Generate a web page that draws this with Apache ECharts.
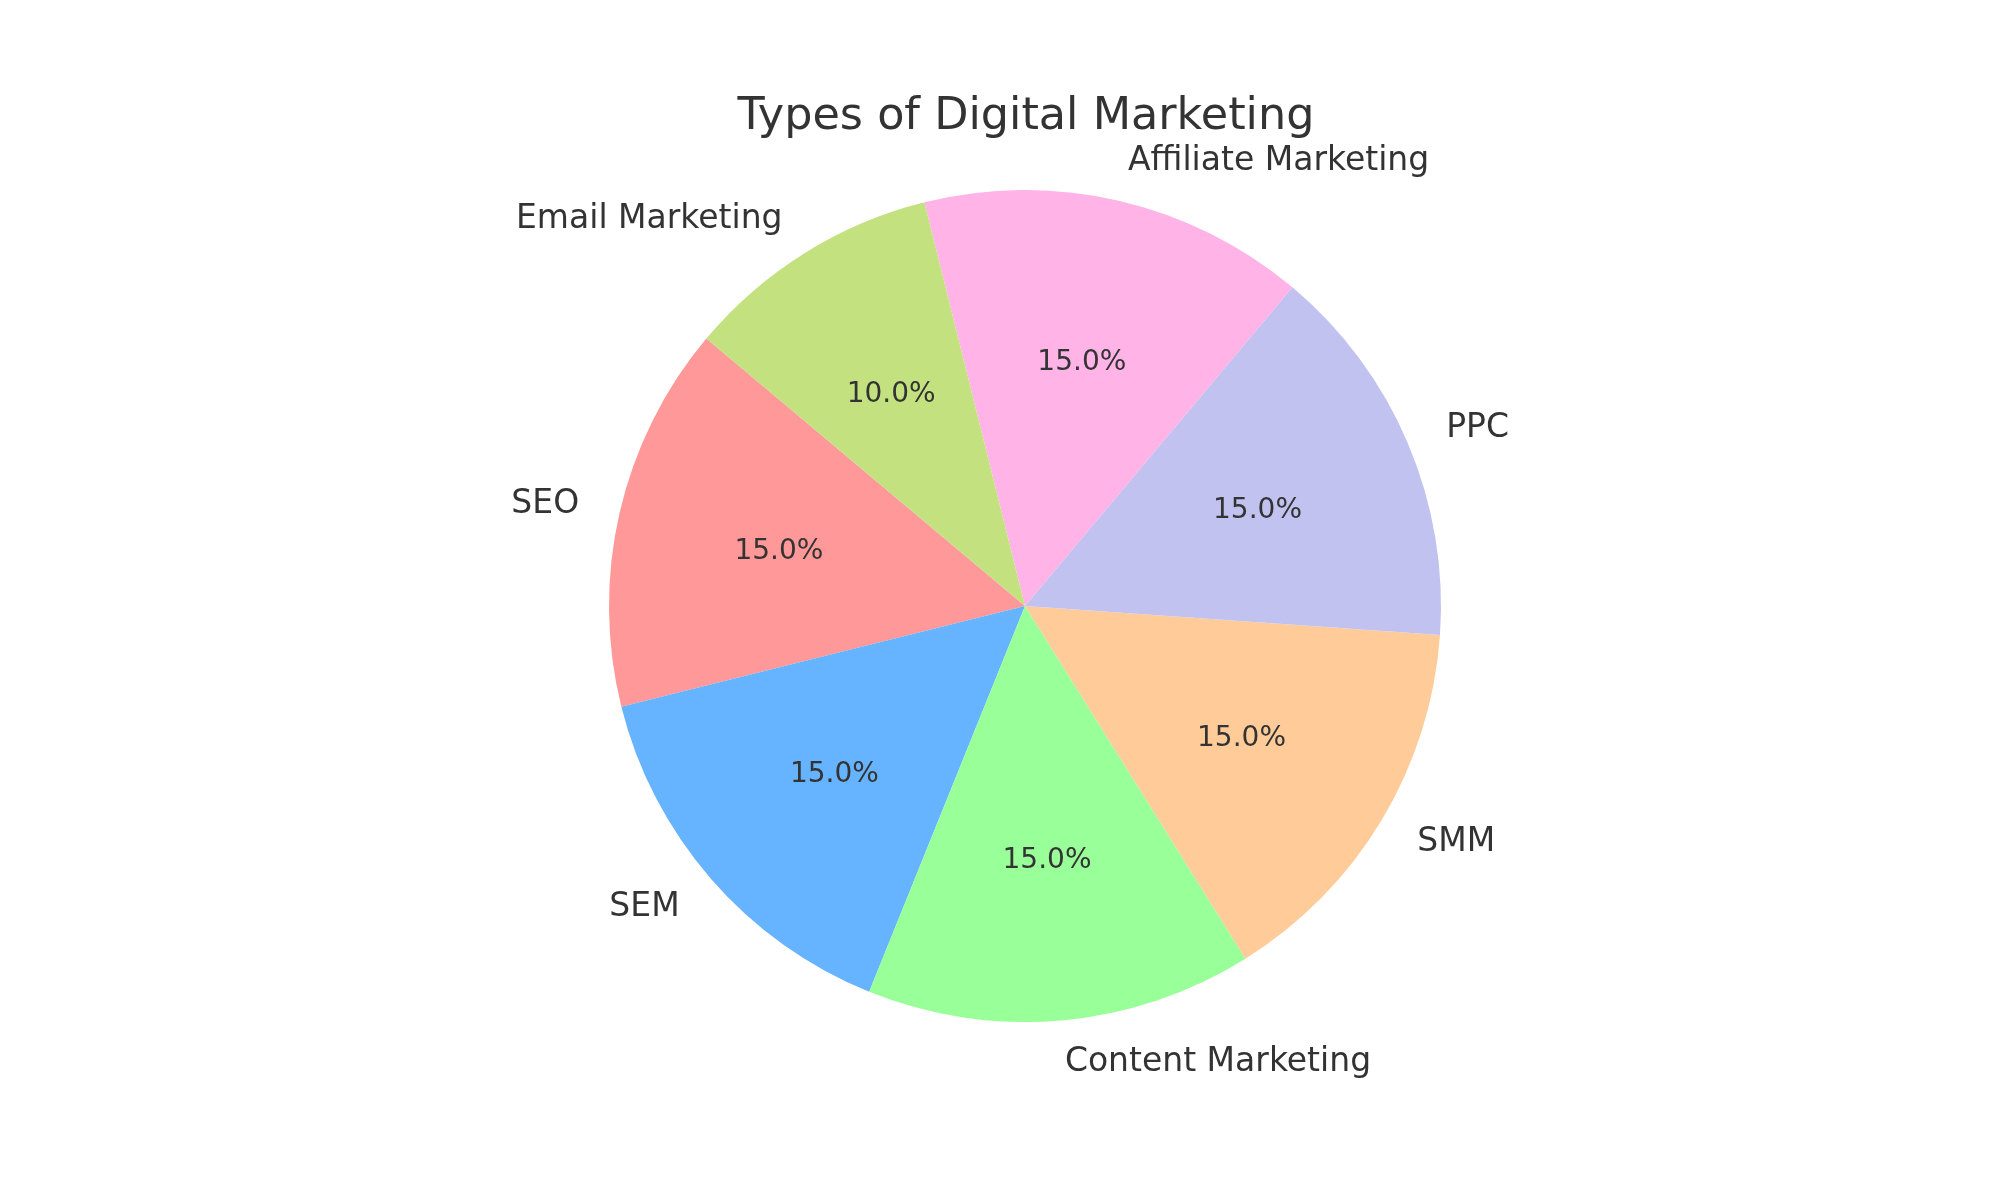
<!DOCTYPE html>
<html lang="en" style="height: 100%">
<head>
  <meta charset="utf-8">
</head>
<body style="height: 100%; margin: 0; background: #ffffff">
  <div id="container" style="height: 100%"></div>

  <script type="text/javascript" src="https://fastly.jsdelivr.net/npm/echarts@6.0.0/dist/echarts.min.js"></script>

  <script type="text/javascript">
    // chart data
    var categories = ['SEO', 'SEM', 'Content Marketing', 'SMM', 'PPC', 'Affiliate Marketing', 'Email Marketing'];
    var shares = [15, 15, 15, 15, 15, 15, 10];
    var colors = ['#ff9999', '#66b3ff', '#99ff99', '#ffcc99', '#c2c2f0', '#ffb3e6', '#c4e17f'];

    var dom = document.getElementById('container');
    var myChart = echarts.init(dom, null, { renderer: 'canvas' });

    var R = 416;            // pie radius in px
    var center = [1025, 606];
    var font = 'DejaVu Sans';

    var pieData = categories.map(function (name, i) {
      return { name: name, value: shares[i], itemStyle: { color: colors[i] } };
    });
    var total = shares.reduce(function (a, b) { return a + b; }, 0);

    var option = {
      backgroundColor: '#ffffff',
      animation: false,
      title: {
        text: 'Types of Digital Marketing',
        left: 1021,
        textAlign: 'center',
        top: 90,
        textStyle: { fontFamily: font, fontSize: 44.5, fontWeight: 'normal', color: '#333333' }
      },
      series: [
        {
          // wedges + outer category labels
          type: 'pie',
          center: center,
          radius: [0, R],
          startAngle: 140,
          clockwise: false,
          avoidLabelOverlap: false,
          data: pieData,
          label: {
            show: true,
            position: 'outside',
            formatter: '{b}',
            fontFamily: font,
            fontSize: 33,
            color: '#333333',
            distanceToLabelLine: 0,
            offset: [0, 1]
          },
          labelLine: { show: false, length: R * 0.1, length2: 0 },
          emphasis: { disabled: true }
        },
        {
          // thin transparent ring used to place the percentage labels at 0.6 R
          type: 'pie',
          center: center,
          radius: [R * 0.6 - 2, R * 0.6 + 2],
          startAngle: 140,
          clockwise: false,
          silent: true,
          avoidLabelOverlap: false,
          data: pieData.map(function (d) {
            return { name: d.name, value: d.value, itemStyle: { color: 'rgba(0,0,0,0)' } };
          }),
          label: {
            show: true,
            position: 'inside',
            formatter: function (p) { return (p.value / total * 100).toFixed(1) + '%'; },
            fontFamily: font,
            fontSize: 28,
            color: '#333333',
            offset: [0, 3]
          },
          labelLine: { show: false },
          emphasis: { disabled: true }
        }
      ]
    };

    myChart.setOption(option);
    window.addEventListener('resize', myChart.resize);
  </script>
</body>
</html>
